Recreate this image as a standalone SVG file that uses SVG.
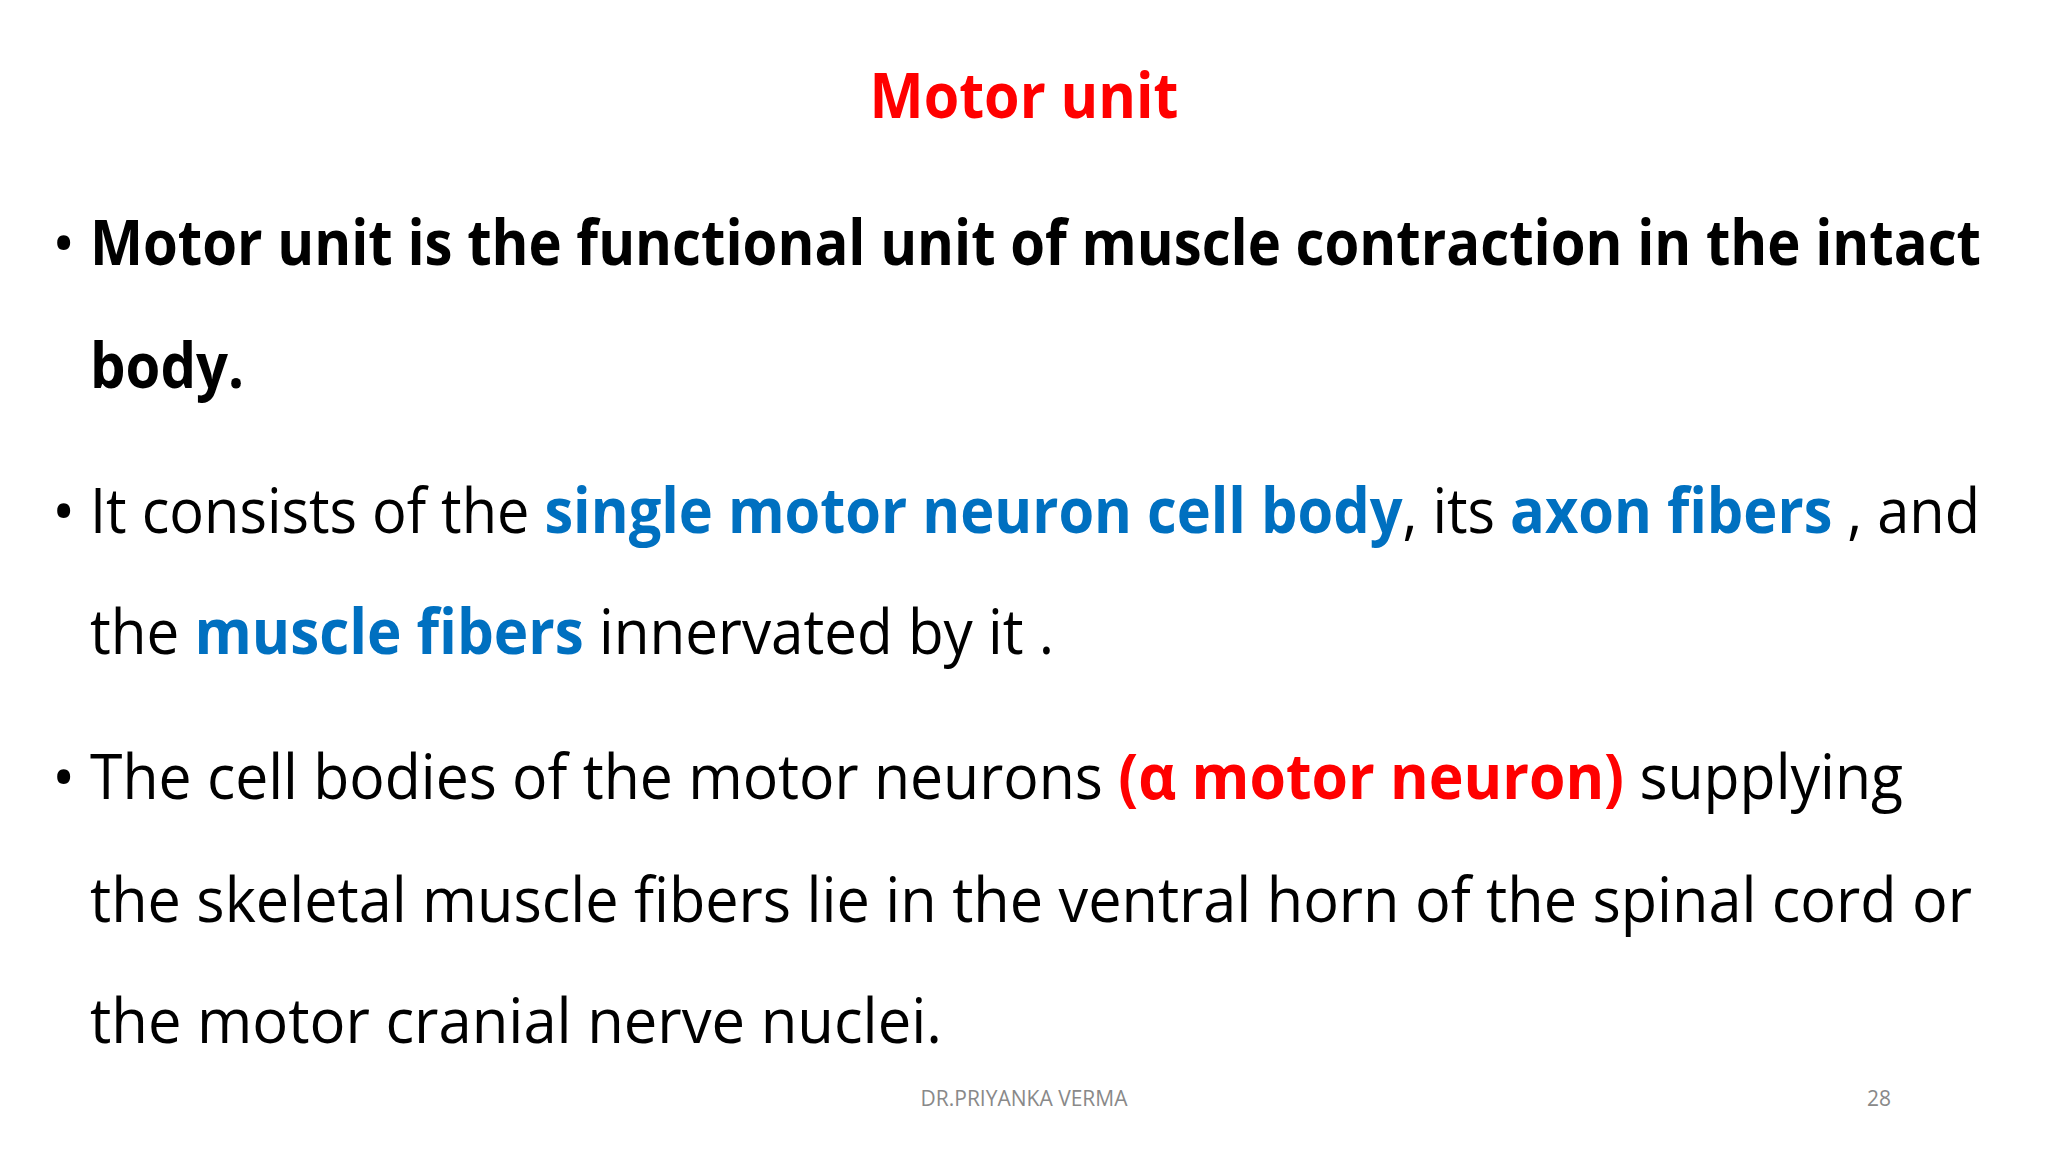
<svg xmlns="http://www.w3.org/2000/svg" width="2048" height="1152" viewBox="0 0 2048 1152">
<style>
text{font-family:"Open Sans","Liberation Sans",sans-serif;fill:#000}
.b{font-size:62px}
.r{fill:#FF0000}
.u{fill:#0070C0;font-weight:bold}
.bold{font-weight:bold}
.f{font-size:21px;fill:#898989}
</style>
<rect width="2048" height="1152" fill="#fff"/>
<g id="title"><text x="1024" y="118" text-anchor="middle" font-size="62" font-weight="bold" class="r" textLength="309" lengthAdjust="spacingAndGlyphs">Motor unit</text></g>
<g id="bullet1">
<text class="b" x="52" y="265">•</text>
<text class="b bold" x="90" y="265" textLength="1891" lengthAdjust="spacingAndGlyphs">Motor unit is the functional unit of muscle contraction in the intact</text>
<text class="b bold" x="90" y="388" textLength="154" lengthAdjust="spacingAndGlyphs">body.</text>
</g>
<g id="bullet2">
<text class="b" x="52" y="533">•</text>
<text class="b" x="90" y="533" textLength="1890" lengthAdjust="spacingAndGlyphs">It consists of the <tspan class="u">single motor neuron cell body</tspan>, its <tspan class="u">axon fibers</tspan> , and</text>
<text class="b" x="90" y="654" textLength="964" lengthAdjust="spacingAndGlyphs">the <tspan class="u">muscle fibers</tspan> innervated by it .</text>
</g>
<g id="bullet3">
<text class="b" x="52" y="799">•</text>
<text class="b" x="90" y="799" textLength="1813" lengthAdjust="spacingAndGlyphs">The cell bodies of the motor neurons <tspan class="r bold">(α motor neuron)</tspan> supplying</text>
<text class="b" x="90" y="922" textLength="1882" lengthAdjust="spacingAndGlyphs">the skeletal muscle fibers lie in the ventral horn of the spinal cord or</text>
<text class="b" x="90" y="1043" textLength="852" lengthAdjust="spacingAndGlyphs">the motor cranial nerve nuclei.</text>
</g>
<g id="footer">
<text class="f" x="1024" y="1106" text-anchor="middle">DR.PRIYANKA VERMA</text>
<text class="f" x="1879" y="1106" text-anchor="middle">28</text>
</g>
</svg>
